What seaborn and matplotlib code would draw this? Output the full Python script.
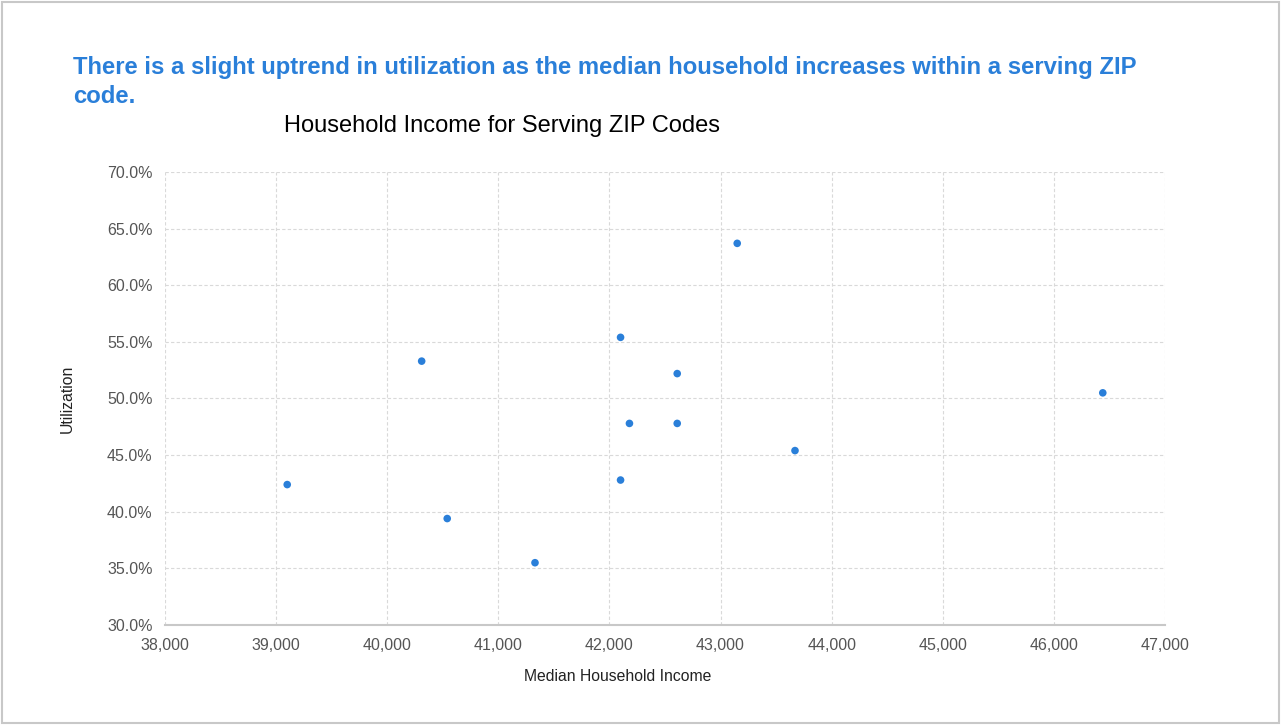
import matplotlib
matplotlib.use("Agg")
import matplotlib.pyplot as plt
from matplotlib.patches import Rectangle
from matplotlib.ticker import FuncFormatter, MultipleLocator
import seaborn as sns
import pandas as pd

income = [39100, 40310, 40540, 41330, 42100, 42100, 42180, 42610, 42610, 43150, 43670, 46440]
utilization = [42.4, 53.3, 39.4, 35.5, 55.4, 42.8, 47.8, 52.2, 47.8, 63.7, 45.4, 50.5]

headline = "There is a slight uptrend in utilization as the median household increases within a serving ZIP\ncode."
chart_title = "Household Income for Serving ZIP Codes"
x_label = "Median Household Income"
y_label = "Utilization"

df = pd.DataFrame({"income": income, "util": [u / 100 for u in utilization]})

sns.set_theme(style="white")
plt.rcParams["font.family"] = ["Liberation Sans", "DejaVu Sans"]

fig = plt.figure(figsize=(12.81, 7.25), dpi=100)
ax = fig.add_axes([165 / 1281, 1 - 625 / 725, 1000 / 1281, 453 / 725])

blue = "#2a7fd9"
sns.scatterplot(data=df, x="income", y="util", ax=ax, color=blue, s=30,
                edgecolor="none", zorder=3)

ax.set_xlim(38000, 47000)
ax.set_ylim(0.30, 0.70)
ax.xaxis.set_major_locator(MultipleLocator(1000))
ax.yaxis.set_major_locator(MultipleLocator(0.05))
ax.xaxis.set_major_formatter(FuncFormatter(lambda v, p: f"{v:,.0f}"))
ax.yaxis.set_major_formatter(FuncFormatter(lambda v, p: f"{v * 100:.1f}%"))
ax.grid(True, color="#d9d9d9", linestyle=(0, (3, 2)), linewidth=0.8)
ax.set_axisbelow(True)
for s in ["top", "right", "left"]:
    ax.spines[s].set_visible(False)
ax.spines["bottom"].set_color("#c8c8c8")
ax.spines["bottom"].set_linewidth(1.5)
ax.tick_params(axis="both", which="both", length=0, labelsize=11.5,
               labelcolor="#555555", pad=9)
ax.set_xlabel(x_label, fontsize=11.3, color="#222222")
ax.set_ylabel(y_label, fontsize=11.3, color="#222222")
ax.xaxis.set_label_coords(0.453, -0.097)
ax.yaxis.set_label_coords(-0.090, 0.50)

fig.text(73 / 1281, 1 - 82 / 725, headline, fontsize=17.2, fontweight="bold",
         color=blue, va="center", ha="left", linespacing=1.3)
fig.text(284 / 1281, 1 - 126 / 725, chart_title, fontsize=17, color="black",
         va="center", ha="left")

fig.patches.append(Rectangle((2 / 1281, 2 / 725), 1 - 4 / 1281, 1 - 4 / 725,
                             transform=fig.transFigure, fill=False,
                             edgecolor="#c8c8c8", linewidth=1.5))

fig.savefig("out.png", dpi=100)
